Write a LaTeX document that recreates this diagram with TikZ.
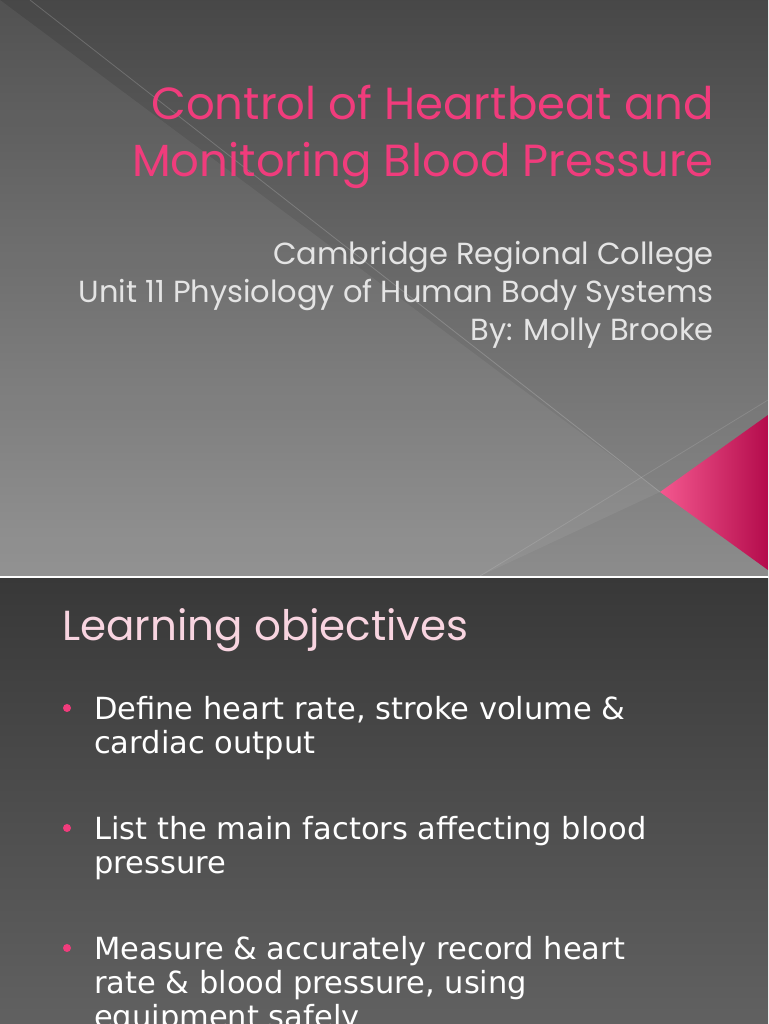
\documentclass[tikz,border=0pt]{standalone}
\usepackage{fontspec}
\setmainfont{DejaVu Sans}
\newfontfamily\titlefont{Poppins}
\definecolor{pinkt}{HTML}{F03C7C}
\definecolor{subt}{HTML}{E4E4E4}
\definecolor{trl}{HTML}{F4588F}
\definecolor{trr}{HTML}{B40C4C}
\definecolor{lot}{HTML}{F8D4E0}
\tikzset{x=1pt,y=-1pt,
 ttl/.style={anchor=base east,font=\titlefont\fontsize{45}{45}\selectfont,text=pinkt,inner sep=0},
 sub/.style={anchor=base east,font=\titlefont\fontsize{30.5}{30.5}\selectfont,text=subt,inner sep=0},
 bul/.style={anchor=base west,font=\fontsize{30.5}{30.5}\selectfont,text=white,inner sep=0},
 dot/.style={circle,fill=pinkt,inner sep=0,minimum size=8pt}}
\begin{document}
\begin{tikzpicture}
\useasboundingbox (0,0) rectangle (768,1024);
% top slide
\shade[top color={black!72},bottom color={black!45}] (0,0) rectangle (768,576);
\fill[white,opacity=0.06] (0,0) -- (660,492) -- (480,576) -- (0,576) -- cycle;
\draw[white,opacity=0.18,line width=0.8pt] (30,0) -- (660,492);
\draw[white,opacity=0.12,line width=0.8pt] (480,576) -- (768,400);
\shade[left color=trl,right color=trr] (660,492) -- (768,415) -- (768,570) -- cycle;
\node[ttl] (t1) at (714,120) {Control of Heartbeat and};
\node[ttl] (t2) at (714,177) {Monitoring Blood Pressure};
\node[sub] (s1) at (714,264) {Cambridge Regional College};
\node[sub] (s2) at (714,302) {Unit 11 Physiology of Human Body Systems};
\node[sub] (s3) at (714,340) {By: Molly Brooke};
% divider
\fill[white] (0,576) rectangle (768,578);
% bottom slide
\shade[top color={black!78},bottom color={black!62}] (0,578) rectangle (768,1024);
\node[anchor=base west,font=\titlefont\fontsize{42}{42}\selectfont,text=lot,inner sep=0] (lo) at (62,640) {Learning objectives};
\node[dot] (d1) at (67,708) {};
\node[bul] (b1) at (94,719) {Define heart rate, stroke volume \&};
\node[bul] (b1b) at (94,753) {cardiac output};
\node[dot] (d2) at (67,828) {};
\node[bul] (b2) at (94,839) {List the main factors affecting blood};
\node[bul] (b2b) at (94,873) {pressure};
\node[dot] (d3) at (67,948) {};
\node[bul] (b3) at (94,959) {Measure \& accurately record heart};
\node[bul] (b3b) at (94,993) {rate \& blood pressure, using};
\node[bul] (b3c) at (94,1027) {equipment safely};
\end{tikzpicture}
\end{document}
